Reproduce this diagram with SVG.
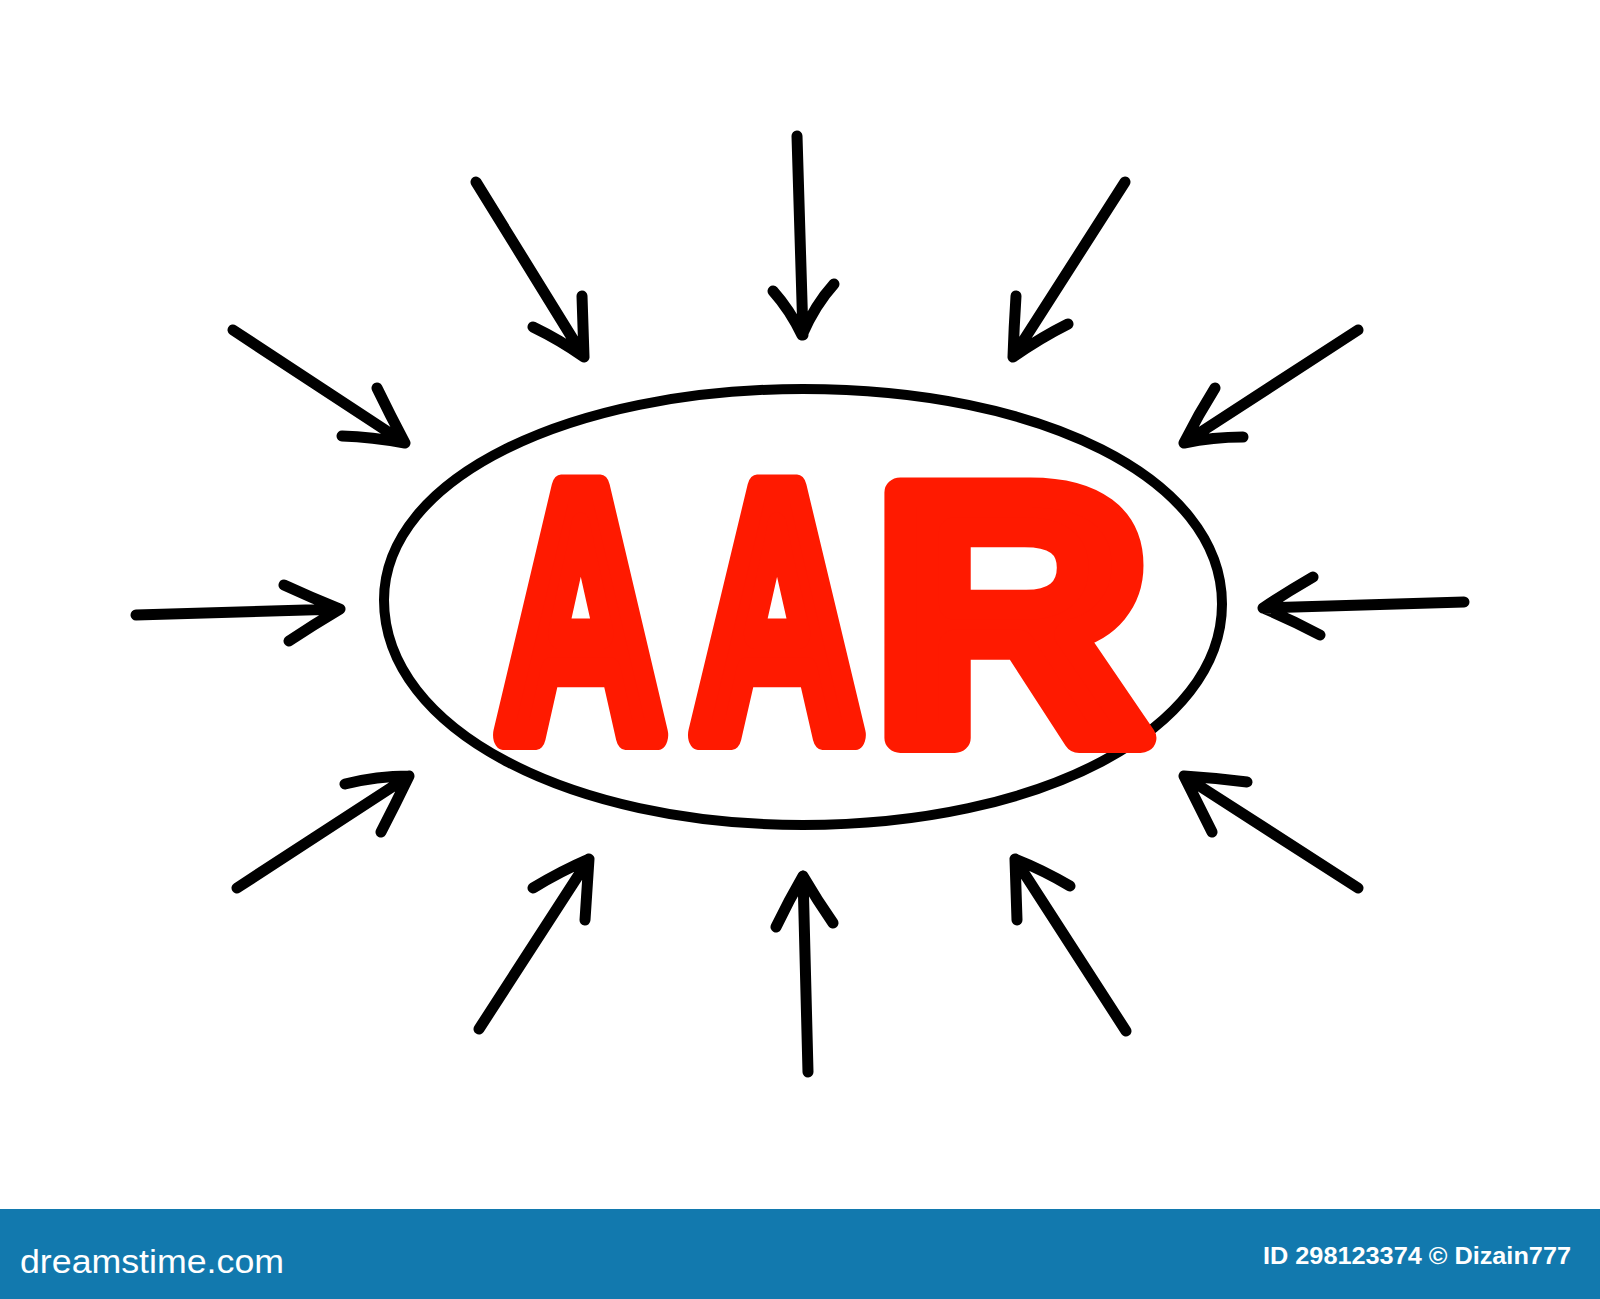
<svg xmlns="http://www.w3.org/2000/svg" width="1600" height="1299" viewBox="0 0 1600 1299">
<style>
.a{fill:none;stroke:#000;stroke-width:11;stroke-linecap:round;stroke-linejoin:round}
.e{fill:none;stroke:#000;stroke-width:10}
.t{font-family:"Liberation Sans","DejaVu Sans",sans-serif;font-weight:bold;font-size:357px;fill:#FF1A00;stroke:#FF1A00;stroke-width:30;stroke-linejoin:round}
.w{font-family:"Liberation Sans","DejaVu Sans",sans-serif;fill:#fff}
</style>
<rect width="1600" height="1299" fill="#fff"/>
<g id="center">
<path class="e" d="M803,389 C1040,389 1222,478 1222,604 C1222,730 1040,825 803,825 C570,825 384,730 384,600 C384,478 570,389 803,389 Z"/>
<text class="t" transform="translate(497,735) scale(0.65,1)" x="0" y="0">A</text>
<text class="t" transform="translate(692,735) scale(0.66,1)" x="0" y="0">A</text>
<text class="t" transform="translate(875,738) scale(1.06,1)" x="0" y="0">R</text>
</g>
<g id="connectors">
<path class="a" d="M797,136 L803,335 M773,291 Q790,310 802,335 Q815,305 834,284"/>
<path class="a" d="M476,182 L584,357 M533,327 Q560,340 584,357 Q583,325 582,296"/>
<path class="a" d="M1125,182 L1013,357 M1016,296 Q1014,327 1013,357 Q1040,338 1068,324"/>
<path class="a" d="M233,330 L405,443 M377,388 Q390,415 405,443 Q372,437 342,436"/>
<path class="a" d="M1358,330 L1184,443 M1215,388 Q1198,415 1184,443 Q1213,437 1243,437"/>
<path class="a" d="M136,615 L340,609 M284,585 Q312,598 340,609 Q313,625 289,641"/>
<path class="a" d="M1464,602 L1263,608 M1313,577 Q1287,592 1263,608 Q1292,620 1320,635"/>
<path class="a" d="M237,888 L409,776 M345,784 Q377,776 409,776 Q395,805 381,832"/>
<path class="a" d="M1358,888 L1184,776 M1212,832 Q1198,804 1184,776 Q1216,778 1247,782"/>
<path class="a" d="M479,1029 L589,859 M533,888 Q561,871 589,859 Q587,890 585,920"/>
<path class="a" d="M808,1072 L803,876 M776,927 Q789,900 803,876 Q817,900 833,923"/>
<path class="a" d="M1126,1031 L1015,859 M1017,920 Q1016,890 1015,859 Q1043,870 1070,886"/>
</g>
<g id="footer">
<rect x="0" y="1209" width="1600" height="90" fill="#1279AE"/>
<text class="w" x="20" y="1273" font-size="34" textLength="264" lengthAdjust="spacingAndGlyphs">dreamstime.com</text>
<text class="w" x="1263" y="1264" font-size="24" font-weight="bold" textLength="308" lengthAdjust="spacingAndGlyphs">ID 298123374 © Dizain777</text>
</g>
</svg>
